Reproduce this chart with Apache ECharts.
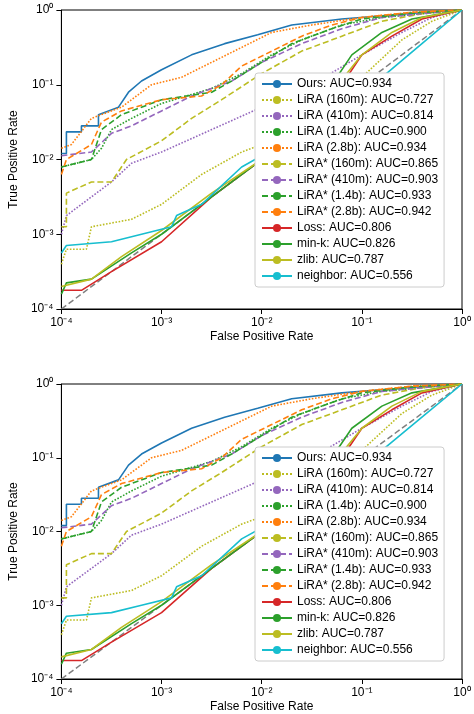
<!DOCTYPE html><html><head><meta charset="utf-8">
<script src="https://cdn.jsdelivr.net/npm/echarts@6/dist/echarts.min.js"></script>
<style>html,body{margin:0;padding:0;background:#fff}#c{width:474px;height:714px}</style></head><body><div id="c"></div>
<script>
// curves stored as [log10 FPR, log10 TPR]
const ours=[[-4,-1.92],[-3.95,-1.92],[-3.95,-1.63],[-3.8,-1.63],[-3.8,-1.55],[-3.63,-1.55],[-3.63,-1.4],[-3.43,-1.3],[-3.33,-1.1],[-3.2,-0.95],[-3,-0.8],[-2.7,-0.6],[-2.37,-0.45],[-2.04,-0.33],[-1.7,-0.2],[-1.2,-0.12],[-0.55,-0.05],[0,0]];
const lira160=[[-4,-3.4],[-3.95,-3.2],[-3.75,-3.2],[-3.7,-2.9],[-3.3,-2.8],[-3,-2.6],[-2.6,-2.2],[-2.2,-1.9],[-1.8,-1.7],[-1.4,-1.3],[-1,-0.9],[-0.6,-0.4],[-0.3,-0.15],[0,0]];
const lira410=[[-4,-3.0],[-3.95,-2.75],[-3.8,-2.6],[-3.5,-2.3],[-3.3,-2.05],[-3,-1.9],[-2.5,-1.6],[-2,-1.3],[-1.5,-1.0],[-1,-0.6],[-0.6,-0.3],[-0.3,-0.1],[0,0]];
const lira14=[[-4,-2.1],[-3.7,-2.0],[-3.6,-1.85],[-3.5,-1.6],[-3.3,-1.45],[-3,-1.25],[-2.5,-1.05],[-2.2,-0.85],[-1.9,-0.6],[-1.6,-0.4],[-1.2,-0.2],[-0.8,-0.1],[0,0]];
const lira28=[[-4,-1.85],[-3.9,-1.8],[-3.7,-1.45],[-3.4,-1.3],[-3.1,-1.0],[-2.8,-0.9],[-2.5,-0.7],[-2.2,-0.5],[-1.9,-0.3],[-1.5,-0.2],[-1,-0.1],[-0.5,-0.03],[0,0]];
const liraS160=[[-4,-2.9],[-3.95,-2.9],[-3.95,-2.45],[-3.7,-2.3],[-3.5,-2.3],[-3.35,-2.0],[-3,-1.75],[-2.7,-1.45],[-2.4,-1.2],[-2,-0.85],[-1.6,-0.55],[-1.2,-0.35],[-0.8,-0.15],[-0.4,-0.05],[0,0]];
const liraS410=[[-4,-1.95],[-3.7,-1.9],[-3.5,-1.65],[-3.3,-1.55],[-3,-1.35],[-2.7,-1.15],[-2.3,-0.95],[-2,-0.7],[-1.6,-0.45],[-1.2,-0.25],[-0.8,-0.1],[0,0]];
const liraS14=[[-4,-2.1],[-3.7,-2.0],[-3.6,-1.6],[-3.4,-1.4],[-3,-1.2],[-2.5,-1.1],[-2.3,-0.95],[-2,-0.7],[-1.7,-0.45],[-1.3,-0.25],[-1,-0.12],[-0.5,-0.04],[0,0]];
const liraS28=[[-4,-2.2],[-3.95,-2.0],[-3.7,-1.8],[-3.6,-1.5],[-3.4,-1.35],[-3,-1.2],[-2.6,-1.15],[-2.4,-1.0],[-2.2,-0.75],[-1.9,-0.55],[-1.6,-0.35],[-1.3,-0.2],[-1,-0.1],[-0.5,-0.03],[0,0]];
const loss=[[-4,-3.75],[-3.8,-3.75],[-3.5,-3.5],[-3,-3.1],[-2.5,-2.5],[-2,-2.0],[-1.5,-1.5],[-1.2,-1.0],[-1,-0.6],[-0.7,-0.35],[-0.4,-0.12],[0,0]];
const mink=[[-4,-3.8],[-3.95,-3.65],[-3.7,-3.6],[-3.3,-3.25],[-3,-3.0],[-2.5,-2.5],[-2,-2.0],[-1.6,-1.5],[-1.3,-1.0],[-1.1,-0.6],[-0.8,-0.3],[-0.5,-0.12],[0,0]];
const zlib=[[-4,-3.7],[-3.7,-3.6],[-3.4,-3.3],[-3,-2.95],[-2.5,-2.45],[-2,-2.0],[-1.6,-1.55],[-1.3,-1.1],[-1,-0.6],[-0.7,-0.3],[-0.4,-0.1],[0,0]];
const neighbor=[[-4,-3.25],[-3.95,-3.15],[-3.5,-3.1],[-3.2,-3.0],[-2.9,-2.9],[-2.85,-2.75],[-2.6,-2.6],[-2.2,-2.1],[-1.8,-1.8],[-1.2,-1.3],[-0.8,-0.9],[-0.4,-0.45],[0,0]];
const diag=[[-4,-4],[0,0]];
const tickLabels={'0.0001':'10⁻⁴','0.001':'10⁻³','0.01':'10⁻²','0.1':'10⁻¹','1':'10⁰'};
const defs=[
 ['Ours: AUC=0.934',ours,'#1f77b4','solid'],
 ['LiRA (160m): AUC=0.727',lira160,'#bcbd22','dotted'],
 ['LiRA (410m): AUC=0.814',lira410,'#9467bd','dotted'],
 ['LiRA (1.4b): AUC=0.900',lira14,'#2ca02c','dotted'],
 ['LiRA (2.8b): AUC=0.934',lira28,'#ff7f0e','dotted'],
 ['LiRA* (160m): AUC=0.865',liraS160,'#bcbd22',[6,3]],
 ['LiRA* (410m): AUC=0.903',liraS410,'#9467bd',[6,3]],
 ['LiRA* (1.4b): AUC=0.933',liraS14,'#2ca02c',[6,3]],
 ['LiRA* (2.8b): AUC=0.942',liraS28,'#ff7f0e',[6,3]],
 ['Loss: AUC=0.806',loss,'#d62728','solid'],
 ['min-k: AUC=0.826',mink,'#2ca02c','solid'],
 ['zlib: AUC=0.787',zlib,'#bcbd22','solid'],
 ['neighbor: AUC=0.556',neighbor,'#17becf','solid']];
const conv=a=>a.map(p=>[Math.pow(10,p[0]),Math.pow(10,p[1])]);
const tops=[10,384];
const grid=[],xAxis=[],yAxis=[],series=[],legend=[];
tops.forEach((t,i)=>{
 grid.push({left:59,top:t,width:403,height:299,show:true,borderColor:'#000',borderWidth:1});
 const ax={type:'log',min:0.0001,max:1,logBase:10,gridIndex:i,
  axisLine:{lineStyle:{color:'#000'}},axisTick:{inside:false,length:5,lineStyle:{color:'#000'}},
  splitLine:{show:false},axisLabel:{color:'#000',fontSize:12,formatter:v=>tickLabels[String(+(+v).toPrecision(3))]||''},
  nameLocation:'middle',nameTextStyle:{color:'#000',fontSize:12}};
 xAxis.push(Object.assign({},ax,{name:'False Positive Rate',nameGap:22}));
 yAxis.push(Object.assign({},ax,{name:'True Positive Rate',nameGap:36}));
 series.push({type:'line',xAxisIndex:i,yAxisIndex:i,data:conv(diag),symbol:'none',silent:true,
  lineStyle:{color:'#7f7f7f',type:[6,3],width:1.5},z:1});
 defs.forEach(d=>series.push({name:d[0],type:'line',xAxisIndex:i,yAxisIndex:i,data:conv(d[1]),symbol:'none',
  lineStyle:{color:d[2],type:d[3],width:1.6},itemStyle:{color:d[2]}}));
 legend.push({show:true,orient:'vertical',left:255,top:t+63,itemGap:4,itemWidth:30,itemHeight:10,
  data:defs.map(d=>d[0]),backgroundColor:'#fff',borderColor:'#ccc',borderWidth:1,borderRadius:3,padding:[5,6],
  textStyle:{fontSize:12,color:'#000'}});
});
const ch=echarts.init(document.getElementById('c'));
ch.setOption({animation:false,grid,xAxis,yAxis,series,legend});
</script></body></html>
